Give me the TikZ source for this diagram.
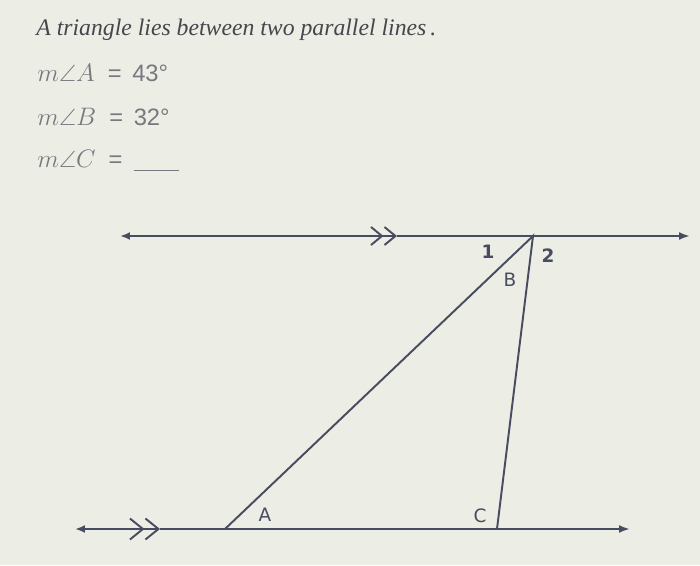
\documentclass[tikz,border=0pt]{standalone}
\usepackage{amssymb}
\usepackage{fontspec}
\setmainfont{Liberation Serif}
\newfontfamily\labelfont{DejaVu Sans}
\newfontfamily\numfont{Liberation Sans}
\usetikzlibrary{positioning,arrows.meta}
\definecolor{paperbg}{RGB}{236,237,228}
\definecolor{lineink}{RGB}{72,76,96}
\definecolor{textink}{RGB}{70,70,78}
\definecolor{eqink}{RGB}{120,120,128}

\begin{document}
\begin{tikzpicture}[x=0.02cm,y=-0.02cm,
	parline/.style={draw=lineink,line width=1.3pt},
	sideline/.style={draw=lineink,line width=1.1pt},
	endtip/.style={-{Latex[length=2.2mm,width=1.6mm]}},
	vlabel/.style={font=\labelfont\fontsize{10.5}{12}\selectfont,text=lineink,inner sep=1pt},
	eqtext/.style={anchor=west,font=\fontsize{13.5}{15}\selectfont,text=eqink,inner sep=0pt}
	]
	\fill[paperbg] (0,0) rectangle (700,565);
	\useasboundingbox (0,0) rectangle (700,565);

	% text of the problem
	\node[eqtext,text=textink] (title) at (36,30) {\itshape A triangle lies between two parallel lines\,.};
	\node[eqtext] (eqA) at (37,73) {$m\angle A$\hspace{0.55em}{\numfont=\hspace{0.45em}43°}};
	\node[eqtext] (eqB) at (37,117) {$m\angle B$\hspace{0.55em}{\numfont=\hspace{0.45em}32°}};
	\node[eqtext] (eqC) at (37,161) {$m\angle C$\hspace{0.55em}{\numfont=\hspace{0.5em}\underline{\hspace{0.9cm}}}};

	% the two parallel lines
	\coordinate (topL) at (120,236);
	\coordinate (topM) at (397,236);
	\coordinate (topR) at (690,236);
	\coordinate (botL) at (75,529);
	\coordinate (botM) at (160,529);
	\coordinate (botR) at (630,529);

	% triangle vertices
	\coordinate (B) at (533,236);
	\coordinate (A) at (225,529);
	\coordinate (C) at (497,529);

	\draw[parline,{Latex[length=2mm,width=1.6mm]}-{Straight Barb[length=2.2mm,width=3.6mm,line width=1.1pt]Straight Barb[length=2.2mm,width=3.6mm,line width=1.1pt]}] (topL) -- (topM);
	\draw[parline,endtip] (topM) -- (topR);
	\draw[parline,{Latex[length=2mm,width=1.6mm]}-{Straight Barb[length=2.6mm,width=4.2mm,line width=1.1pt]Straight Barb[length=2.6mm,width=4.2mm,line width=1.1pt]}] (botL) -- (botM);
	\draw[parline,endtip] (botM) -- (botR);

	\draw[sideline] (A) -- (B) -- (C);

	% angle labels
	\node[vlabel] (l1) at (488,252) {\bfseries 1};
	\node[vlabel] (l2) at (548,256) {\bfseries 2};
	\node[vlabel] (lB) at (510,280) {B};
	\node[vlabel] (lA) at (265,515) {A};
	\node[vlabel] (lC) at (480,516) {C};
\end{tikzpicture}
\end{document}
